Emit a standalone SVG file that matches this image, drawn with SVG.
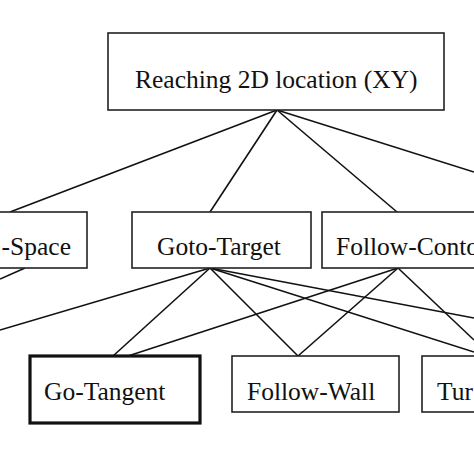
<svg xmlns="http://www.w3.org/2000/svg" width="474" height="474" viewBox="0 0 474 474">
<style>
.box{fill:#fff;stroke:#222;stroke-width:1.6}
.thick{fill:#fff;stroke:#111;stroke-width:3.2}
.lbl{font-family:"Liberation Serif","Times New Roman",serif;font-size:25.5px;fill:#111}
.con line{stroke:#111;stroke-width:1.6}
</style>
<rect width="474" height="474" fill="#fff"/>
<g id="connectors" class="con">
<line x1="277" y1="110" x2="10" y2="212"/>
<line x1="277" y1="110" x2="210" y2="212"/>
<line x1="277" y1="110" x2="397" y2="212"/>
<line x1="277" y1="110" x2="474" y2="172"/>
<line x1="25" y1="268" x2="0" y2="279"/>
<line x1="210" y1="268" x2="0" y2="330"/>
<line x1="210" y1="268" x2="113" y2="356"/>
<line x1="210" y1="268" x2="298" y2="356"/>
<line x1="210" y1="268" x2="474" y2="318"/>
<line x1="210" y1="268" x2="474" y2="352"/>
<line x1="398" y1="268" x2="128" y2="356"/>
<line x1="398" y1="268" x2="298" y2="356"/>
<line x1="398" y1="268" x2="474" y2="340"/>
</g>
<g id="reaching">
<rect class="box" x="108" y="33" width="336" height="77"/>
<text class="lbl" x="135" y="88">Reaching 2D location (XY)</text>
</g>
<g id="space">
<rect class="box" x="-10" y="212" width="97" height="56"/>
<text class="lbl" x="71" y="255" text-anchor="end">-Space</text>
</g>
<g id="goto-target">
<rect class="box" x="132" y="212" width="179" height="56"/>
<text class="lbl" x="157" y="255">Goto-Target</text>
</g>
<g id="follow-contour">
<rect class="box" x="322" y="212" width="170" height="56"/>
<text class="lbl" x="336" y="255">Follow-Conto</text>
</g>
<g id="go-tangent">
<rect class="thick" x="30" y="356" width="170" height="67"/>
<text class="lbl" x="44" y="400">Go-Tangent</text>
</g>
<g id="follow-wall">
<rect class="box" x="232" y="356" width="167" height="56"/>
<text class="lbl" x="247" y="400">Follow-Wall</text>
</g>
<g id="turn">
<rect class="box" x="422" y="356" width="70" height="56"/>
<text class="lbl" x="437" y="400">Tur</text>
</g>
</svg>
